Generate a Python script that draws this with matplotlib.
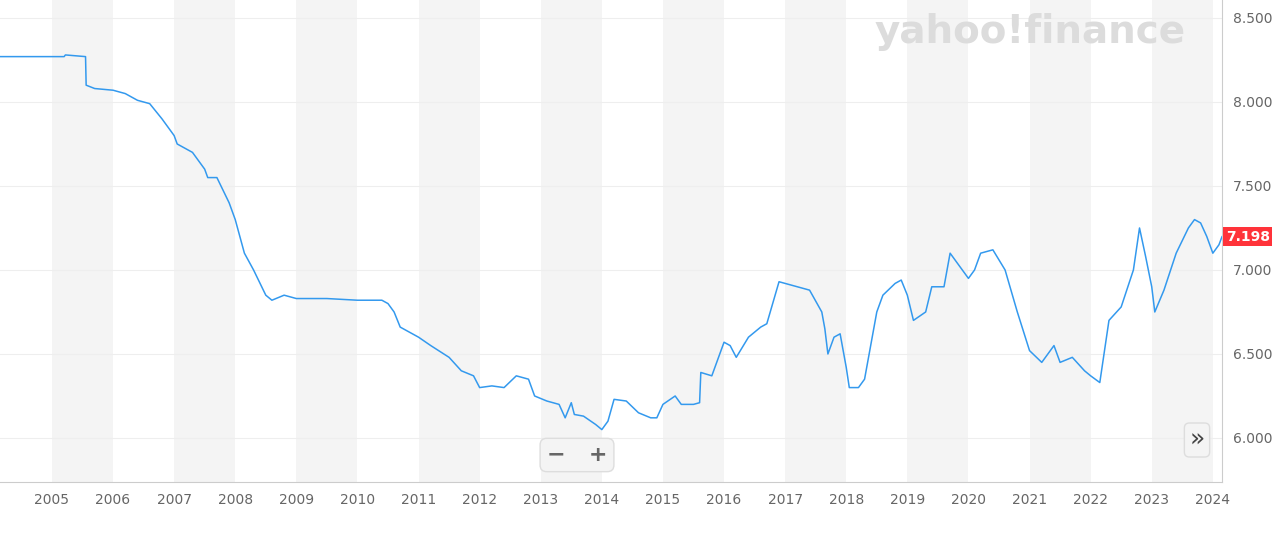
import matplotlib
matplotlib.use("Agg")
import matplotlib.pyplot as plt
from matplotlib.patches import FancyBboxPatch

years = [2004.15,2005.2,2005.22,2005.55,2005.56,2005.7,2006.0,2006.2,2006.4,2006.6,2006.8,2007.0,2007.05,2007.3,2007.5,2007.55,2007.7,2007.9,2008.0,2008.15,2008.3,2008.5,2008.6,2008.8,2009.0,2009.5,2010.0,2010.4,2010.5,2010.6,2010.7,2010.9,2011.0,2011.2,2011.5,2011.7,2011.9,2012.0,2012.2,2012.4,2012.6,2012.8,2012.9,2013.1,2013.3,2013.4,2013.5,2013.55,2013.7,2013.9,2014.0,2014.1,2014.2,2014.4,2014.6,2014.8,2014.9,2015.0,2015.2,2015.3,2015.5,2015.6,2015.62,2015.8,2016.0,2016.1,2016.2,2016.4,2016.6,2016.7,2016.9,2017.0,2017.2,2017.4,2017.6,2017.65,2017.7,2017.8,2017.9,2018.0,2018.05,2018.2,2018.3,2018.4,2018.5,2018.6,2018.8,2018.9,2019.0,2019.1,2019.3,2019.4,2019.6,2019.7,2019.8,2019.9,2020.0,2020.1,2020.2,2020.4,2020.6,2020.8,2021.0,2021.2,2021.4,2021.5,2021.7,2021.9,2022.0,2022.15,2022.3,2022.5,2022.7,2022.8,2022.9,2023.0,2023.05,2023.2,2023.4,2023.6,2023.7,2023.8,2023.9,2024.0,2024.1,2024.15]
rates = [8.27,8.27,8.28,8.27,8.10,8.08,8.07,8.05,8.01,7.99,7.90,7.80,7.75,7.70,7.60,7.55,7.55,7.40,7.30,7.10,7.00,6.85,6.82,6.85,6.83,6.83,6.82,6.82,6.80,6.75,6.66,6.62,6.60,6.55,6.48,6.40,6.37,6.30,6.31,6.30,6.37,6.35,6.25,6.22,6.20,6.12,6.21,6.14,6.13,6.08,6.05,6.10,6.23,6.22,6.15,6.12,6.12,6.20,6.25,6.20,6.20,6.21,6.39,6.37,6.57,6.55,6.48,6.60,6.66,6.68,6.93,6.92,6.90,6.88,6.75,6.65,6.50,6.60,6.62,6.42,6.30,6.30,6.35,6.55,6.75,6.85,6.92,6.94,6.85,6.70,6.75,6.90,6.90,7.10,7.05,7.00,6.95,7.00,7.10,7.12,7.00,6.75,6.52,6.45,6.55,6.45,6.48,6.40,6.37,6.33,6.70,6.78,7.00,7.25,7.08,6.90,6.75,6.88,7.10,7.25,7.30,7.28,7.20,7.10,7.15,7.198]
xticks = list(range(2005, 2025))
yticks = [6.0, 6.5, 7.0, 7.5, 8.0, 8.5]
last_label = "7.198"

fig = plt.figure(figsize=(12.8, 5.39), dpi=100)
ax = fig.add_axes([0, 57/539, 1222/1280, 482/539])
ax.set_xlim(2004.15, 2024.15)
ax.set_ylim(5.738, 8.607)
for y in range(2005, 2024, 2):
    ax.axvspan(y, y + 1, color="#f4f4f4", zorder=0, lw=0)
for t in yticks:
    ax.axhline(t, color="#eeeeee", lw=0.8, zorder=1)
ax.plot(years, rates, color="#3399ee", lw=1.1, zorder=3)
ax.yaxis.tick_right()
ax.set_yticks(yticks)
ax.set_yticklabels([f"{v:.3f}" for v in yticks], color="#666666", fontsize=10)
ax.set_xticks(xticks)
ax.set_xticklabels([str(x) for x in xticks], color="#666666", fontsize=10)
ax.tick_params(axis="both", length=0, pad=8)
for s in ["top", "left"]:
    ax.spines[s].set_visible(False)
ax.spines["bottom"].set_color("#cccccc")
ax.spines["right"].set_color("#cccccc")
ax.text(1.003, (7.198 - 5.738) / (8.607 - 5.738), last_label, transform=ax.transAxes,
        color="white", fontsize=10, va="center", ha="left", fontweight="bold",
        bbox=dict(boxstyle="square,pad=0.2", fc="#ff333a", ec="none"), clip_on=False)
fig.text(1030/1280, 1 - 32/539, "yahoo!finance", fontsize=28, fontweight="bold",
         color="#dcdcdc", ha="center", va="center")
fig.text(577/1280, 1 - 455/539, "−   +", fontsize=16, fontweight="bold", color="#666666",
         ha="center", va="center",
         bbox=dict(boxstyle="round,pad=0.3", fc="#f4f4f4", ec="#dddddd"))
fig.text(1197/1280, 1 - 440/539, "»", fontsize=18, color="#444444", ha="center", va="center",
         bbox=dict(boxstyle="round,pad=0.2", fc="#f4f4f4", ec="#dddddd"))
fig.savefig("out.png", dpi=100)
